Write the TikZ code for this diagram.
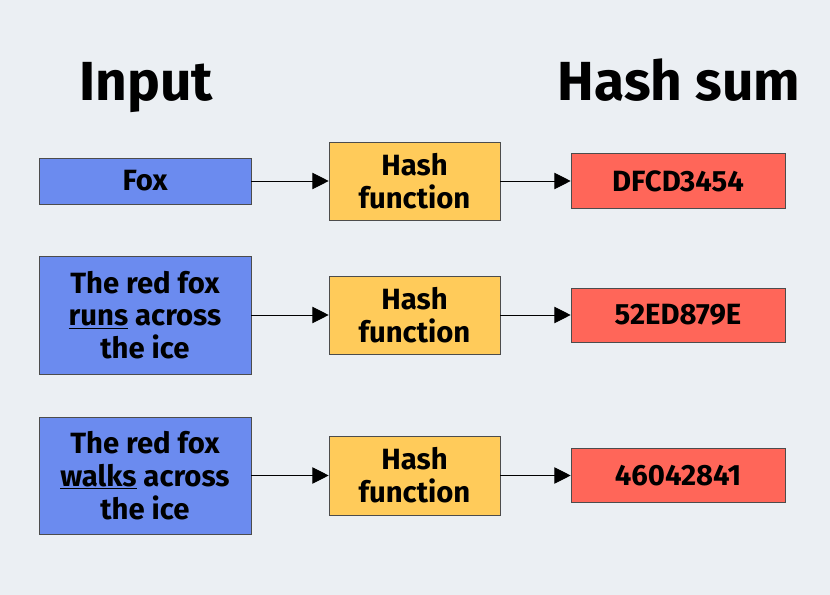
\documentclass[tikz,border=0pt]{standalone}
\usepackage{fontspec}
\setmainfont{Fira Sans}
\usetikzlibrary{arrows.meta}

\begin{document}
\begin{tikzpicture}[x=0.03cm,y=-0.03cm,
    box/.style={draw=black!70,line width=0.5pt,align=center,
        font=\fontsize{25}{28}\selectfont\bfseries,inner sep=0pt},
    inbox/.style={box,fill=inblue},
    hashbox/.style={box,fill=hashyellow},
    sumbox/.style={box,fill=sumred},
    title/.style={font=\fontsize{47}{50}\selectfont\bfseries,anchor=base},
    arr/.style={-{Triangle[length=14pt,width=14pt]},line width=0.8pt}]
    \definecolor{bgcol}{HTML}{EBEFF3}
    \definecolor{inblue}{HTML}{6B8BEF}
    \definecolor{hashyellow}{HTML}{FFCB5A}
    \definecolor{sumred}{HTML}{FF6659}

    % background
    \fill[bgcol] (0,0) rectangle (830,595);
    \useasboundingbox (0,0) rectangle (830,595);

    % titles
    \node[title] (tin) at (146,101) {Input};
    \node[title] (tsum) at (679,101) {Hash sum};

    % first row
    \node[inbox,minimum width=212*0.03cm,minimum height=46*0.03cm] (in1) at (145,181) {Fox};
    \node[hashbox,minimum width=171*0.03cm,minimum height=78*0.03cm] (h1) at (414.5,181) {Hash\\function};
    \node[sumbox,minimum width=214*0.03cm,minimum height=55*0.03cm] (s1) at (678,181) {DFCD3454};

    % second row
    \node[inbox,minimum width=212*0.03cm,minimum height=118*0.03cm] (in2) at (145,315) {The red fox\\\underline{runs} across\\the ice};
    \node[hashbox,minimum width=171*0.03cm,minimum height=78*0.03cm] (h2) at (414.5,315) {Hash\\function};
    \node[sumbox,minimum width=214*0.03cm,minimum height=54*0.03cm] (s2) at (678,315) {52ED879E};

    % third row
    \node[inbox,minimum width=212*0.03cm,minimum height=117*0.03cm] (in3) at (145,475.5) {The red fox\\\underline{walks} across\\the ice};
    \node[hashbox,minimum width=171*0.03cm,minimum height=79*0.03cm] (h3) at (414.5,475.5) {Hash\\function};
    \node[sumbox,minimum width=214*0.03cm,minimum height=54*0.03cm] (s3) at (678,475.5) {46042841};

    % arrows
    \foreach \r in {1,2,3} {
        \draw[arr] (in\r.east) -- (h\r.west);
        \draw[arr] (h\r.east) -- (s\r.west);
    }
\end{tikzpicture}
\end{document}
